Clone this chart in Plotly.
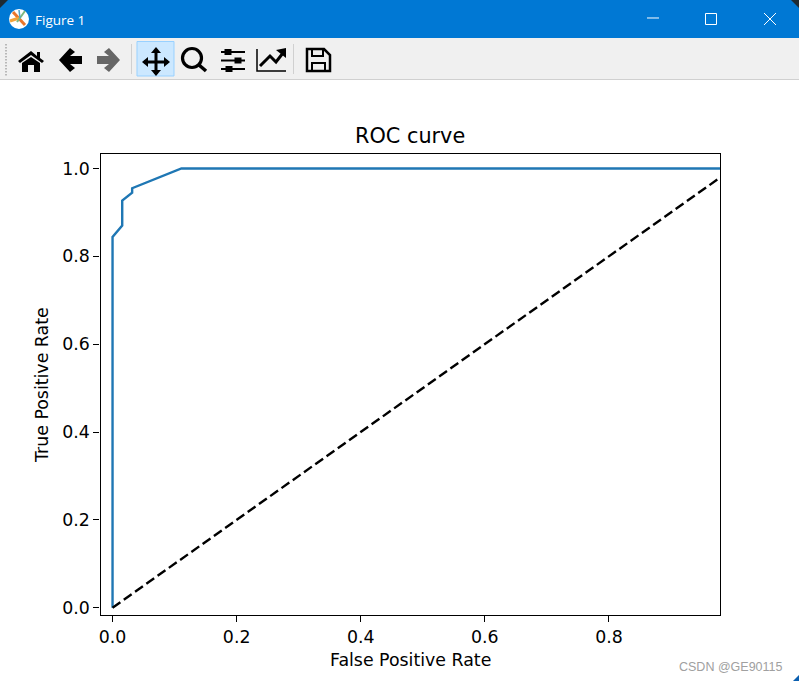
import plotly.graph_objects as go

W, H = 799, 681

# values
fpr = [0.0, 0.0, 0.0156, 0.0156, 0.0316, 0.0316, 0.111, 1.0]
tpr = [0.0, 0.844, 0.87, 0.927, 0.945, 0.955, 1.0, 1.0]
chance_x = [0.0, 1.0]
chance_y = [0.0, 1.0]
x_ticks = [0.0, 0.2, 0.4, 0.6, 0.8]
y_ticks = [0.0, 0.2, 0.4, 0.6, 0.8, 1.0]
x_range = [-0.0194, 0.979]
y_range = [-0.0165, 1.034]

FONT = "DejaVu Sans"
shapes = []


def px(x, y):
    return x / W, 1 - y / H


def rect(x0, y0, x1, y1, fill, border=None, width=0):
    a, b = px(x0, y0)
    c, d = px(x1, y1)
    shapes.append(dict(type="rect", xref="paper", yref="paper", x0=a, y0=b, x1=c, y1=d,
                       fillcolor=fill, line=dict(color=border or fill, width=width)))


def circle(cx, cy, r, fill, border="rgba(0,0,0,0)", width=0):
    a, b = px(cx - r, cy - r)
    c, d = px(cx + r, cy + r)
    shapes.append(dict(type="circle", xref="paper", yref="paper", x0=a, y0=b, x1=c, y1=d,
                       fillcolor=fill, line=dict(color=border, width=width)))


def poly(points, fill=None, border=None, width=0, closed=True):
    # paper coordinates, so the chrome stays put whatever the axes do
    parts = []
    for i, p in enumerate(points):
        a, b = px(*p)
        parts.append(("M" if i == 0 else "L") + f"{a:.5f},{b:.5f}")
    path = " ".join(parts) + (" Z" if closed else "")
    shapes.append(dict(type="path", xref="paper", yref="paper", path=path,
                       fillcolor=fill if fill else "rgba(0,0,0,0)",
                       line=dict(color=border if border else "rgba(0,0,0,0)", width=width)))


def line(points, color="#000000", width=2):
    poly(points, None, color, width, closed=False)


def label(text, x, y, size, color="#000000", family=FONT, anchor="center", angle=0):
    a, b = px(x, y)
    return dict(text=text, xref="paper", yref="paper", x=a, y=b, showarrow=False, xanchor=anchor,
                yanchor="middle", textangle=angle, font=dict(family=family, size=size, color=color))


# window frame
rect(0, 0, W, 38, "#0078D4")
rect(0, 38, W, 79, "#F0F0F0")
rect(0, 79, W, 80, "#D0D0D0")
poly([(0, 0), (8, 0), (0, 8)], "#1E2A33")
poly([(W, 0), (W - 8, 0), (W, 8)], "#1E2A33")
poly([(W, H), (W - 6, H), (W, H - 6)], "#0A5FB0")

# window logo
circle(19, 19, 10, "#FFFFFF")
line([(13, 12), (25, 25)], "#E8762C", 3)
line([(10, 21), (19, 18)], "#F2A33A", 3)
line([(25, 11), (17, 22)], "#7FB77E", 2)
line([(19, 10), (20, 18)], "#4FA3C7", 1.5)

# window buttons
line([(647, 18), (659, 18)], "#FFFFFF", 1)
rect(705.5, 13.5, 716.5, 24.5, "rgba(0,0,0,0)", "#FFFFFF", 1)
line([(764, 13), (776, 25)], "#FFFFFF", 1)
line([(776, 13), (764, 25)], "#FFFFFF", 1)

# toolbar gripper and separators
for gy in range(44, 76, 3):
    rect(5, gy, 7, gy + 1.5, "#B8B8B8")
rect(131, 44, 132, 74, "#D0D0D0")
rect(293, 44, 294, 74, "#D0D0D0")

# home
poly([(18, 61), (31, 51), (37, 56), (37, 52), (40, 52), (40, 58), (44, 61), (42, 63),
      (31, 55), (20, 63)], "#000000")
poly([(22, 63), (31, 57), (40, 63), (40, 72), (34, 72), (34, 65), (28, 65), (28, 72),
      (22, 72)], "#000000")

# back and forward
poly([(59, 60), (70, 48), (75, 52), (70, 56), (82, 56), (82, 64), (70, 64), (75, 68), (70, 72)],
     "#000000")
poly([(120, 60), (109, 48), (104, 52), (109, 56), (97, 56), (97, 64), (109, 64), (104, 68), (109, 72)],
     "#666666")

# pan button
rect(137, 41.5, 174, 76, "#CCE8FF", "#99D1FF", 1)
line([(156, 50), (156, 74)], "#000000", 3)
line([(144, 62), (168, 62)], "#000000", 3)
poly([(156, 47), (151, 53), (161, 53)], "#000000")
poly([(156, 76), (151, 70), (161, 70)], "#000000")
poly([(142, 62), (148, 57), (148, 67)], "#000000")
poly([(170, 62), (164, 57), (164, 67)], "#000000")

# zoom
circle(192, 58, 9.5, "rgba(0,0,0,0)", "#000000", 3.2)
line([(199, 65), (206, 71)], "#000000", 3.5)

# sliders
for sy, kx in [(52, 228), (60.5, 238), (69, 229)]:
    line([(221, sy), (245, sy)], "#000000", 2)
    rect(kx - 3.5, sy - 3, kx + 3.5, sy + 3, "#000000")

# edit axes
line([(257, 49), (257, 71), (286, 71)], "#000000", 1.5)
line([(260, 66), (270, 56), (276, 62), (283, 53)], "#000000", 3)
poly([(276, 50), (286, 48), (286, 58)], "#000000")

# save
poly([(307, 49), (324, 49), (330, 55), (330, 71), (307, 71)], None, "#000000", 2.5)
rect(312, 49, 323, 56, "rgba(0,0,0,0)", "#000000", 2)
rect(312, 63, 325, 71, "rgba(0,0,0,0)", "#000000", 2)

fig = go.Figure()
fig.add_trace(go.Scatter(x=fpr, y=tpr, mode="lines", line=dict(color="#1F77B4", width=2.4),
                         showlegend=False))
fig.add_trace(go.Scatter(x=chance_x, y=chance_y, mode="lines",
                         line=dict(color="#000000", width=2.4, dash="9.6px,4.2px"),
                         showlegend=False))

axis_style = dict(showgrid=False, zeroline=False, showline=True, mirror=True, linecolor="#000000",
                  linewidth=1.4, ticks="outside", ticklen=6, tickwidth=1.4, tickcolor="#000000",
                  tickformat=".1f", automargin=False,
                  tickfont=dict(family=FONT, size=17.36, color="#000000"))

fig.update_xaxes(range=x_range, tickvals=x_ticks, domain=[100.5 / W, 720 / W], anchor="y", **axis_style)
fig.update_yaxes(range=y_range, tickvals=y_ticks, domain=[1 - 615 / H, 1 - 153.5 / H], anchor="x", **axis_style)

fig.update_layout(
    width=W,
    height=H,
    margin=dict(l=0, r=0, t=0, b=0),
    paper_bgcolor="#FFFFFF",
    plot_bgcolor="#FFFFFF",
    shapes=shapes,
    annotations=[
        label("ROC curve", 410, 136, 20.8),
        label("False Positive Rate", 410, 660, 17.36),
        label("True Positive Rate", 42, 385, 17.36, angle=-90),
        label("Figure 1", 33, 19.5, 13.5, "#FFFFFF", "Open Sans", "left"),
        label("CSDN @GE90115", 785, 666.5, 12.5, "#A0A0A0", "Liberation Sans", "right"),
    ],
)

fig.write_html("out.html", config=dict(displayModeBar=False),
               post_script="document.body.style.margin='0';document.body.style.overflow='hidden';")
